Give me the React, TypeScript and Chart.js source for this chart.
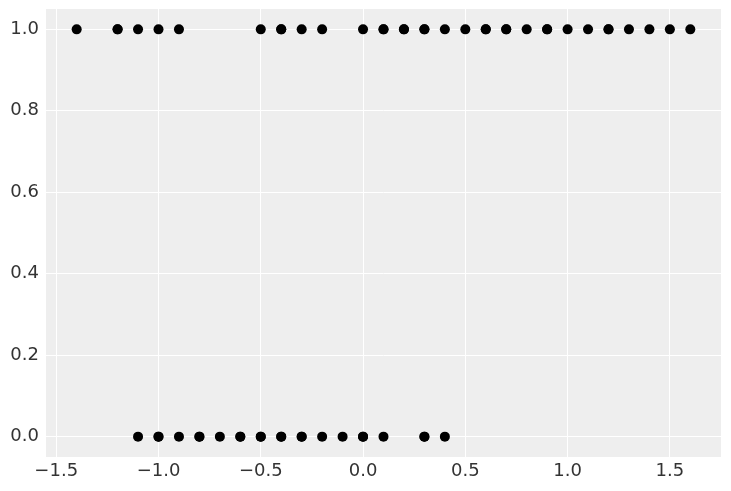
import React, { useEffect, useRef } from "react";
import { Chart, registerables } from "chart.js";

Chart.register(...registerables);

const onesX = [-1.4, -1.2, -1.2, -1.1, -1.0, -0.9, -0.5, -0.4, -0.4, -0.3, -0.2, 0.0, 0.1, 0.1, 0.2, 0.2, 0.3, 0.3, 0.4, 0.5, 0.6, 0.6, 0.7, 0.7, 0.8, 0.9, 0.9, 1.0, 1.1, 1.2, 1.2, 1.3, 1.4, 1.5, 1.6];
const zerosX = [-1.1, -1.0, -1.0, -0.9, -0.8, -0.8, -0.7, -0.6, -0.6, -0.5, -0.5, -0.4, -0.4, -0.3, -0.3, -0.2, -0.1, 0.0, 0.0, 0.1, 0.3, 0.3, 0.4];
const xTicks = [-1.5, -1.0, -0.5, 0.0, 0.5, 1.0, 1.5];
const yTicks = [0.0, 0.2, 0.4, 0.6, 0.8, 1.0];
const xRange = [-1.55, 1.75];
const yRange = [-0.05, 1.05];

const fmt = (v: number) => v.toFixed(1).replace("-", "\u2212");

const bgPlugin = {
  id: "bg",
  beforeDraw(chart: any) {
    const { ctx, chartArea } = chart;
    ctx.save();
    ctx.fillStyle = "#eeeeee";
    ctx.fillRect(chartArea.left, chartArea.top, chartArea.right - chartArea.left, chartArea.bottom - chartArea.top);
    ctx.restore();
  },
};

export default function App() {
  const ref = useRef<HTMLCanvasElement>(null);
  useEffect(() => {
    const points = [
      ...onesX.map((x) => ({ x, y: 1 })),
      ...zerosX.map((x) => ({ x, y: 0 })),
    ];
    const chart = new Chart(ref.current!, {
      type: "scatter",
      data: {
        datasets: [
          {
            data: points,
            backgroundColor: "#000000",
            borderColor: "#000000",
            borderWidth: 0,
            pointRadius: 5,
          },
        ],
      },
      options: {
        animation: false,
        responsive: false,
        maintainAspectRatio: false,
        layout: { padding: { top: 9, right: 10, left: 0, bottom: 0 } },
        plugins: { legend: { display: false }, tooltip: { enabled: false } },
        scales: {
          x: {
            type: "linear",
            min: xRange[0],
            max: xRange[1],
            border: { display: false },
            grid: { color: "#ffffff", lineWidth: 1, drawTicks: false },
            afterBuildTicks: (s: any) => {
              s.ticks = xTicks.map((v) => ({ value: v }));
            },
            afterFit: (s: any) => {
              s.height = 34;
              s.paddingLeft = 0;
              s.paddingRight = 0;
            },
            ticks: {
              callback: (v: any) => fmt(Number(v)),
              color: "#333333",
              font: { family: "DejaVu Sans", size: 18 },
              padding: 4,
              maxRotation: 0,
              autoSkip: false,
            },
          },
          y: {
            type: "linear",
            min: yRange[0],
            max: yRange[1],
            border: { display: false },
            grid: { color: "#ffffff", lineWidth: 1, drawTicks: false },
            afterBuildTicks: (s: any) => {
              s.ticks = yTicks.map((v) => ({ value: v }));
            },
            afterFit: (s: any) => {
              s.width = 46;
              s.paddingTop = 0;
              s.paddingBottom = 0;
            },
            ticks: {
              callback: (v: any) => fmt(Number(v)),
              color: "#333333",
              font: { family: "DejaVu Sans", size: 18 },
              padding: 7,
              autoSkip: false,
            },
          },
        },
      },
      plugins: [bgPlugin],
    });
    return () => chart.destroy();
  }, []);
  return (
    <div style={{ position: "fixed", left: 0, top: 0, width: 731, height: 491, background: "#fff" }}>
      <canvas ref={ref} width={731} height={491} style={{ width: 731, height: 491 }} />
    </div>
  );
}
